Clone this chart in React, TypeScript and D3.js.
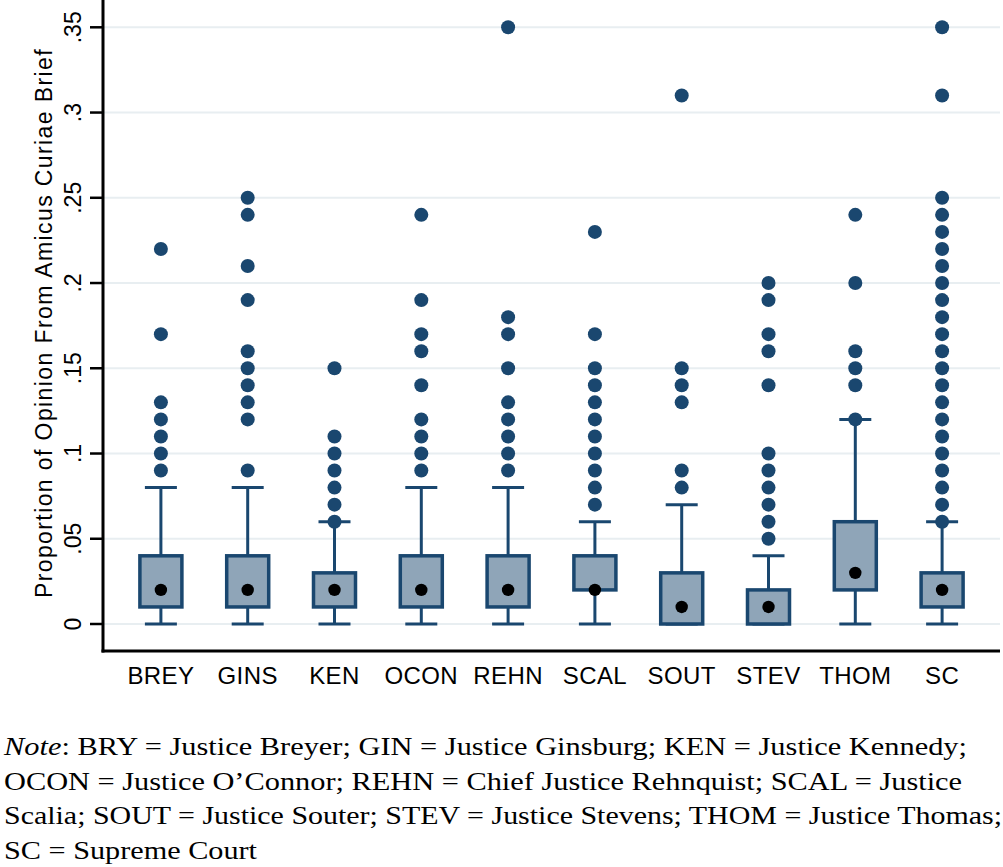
import * as d3 from 'd3';

const justices = ['BREY', 'GINS', 'KEN', 'OCON', 'REHN', 'SCAL', 'SOUT', 'STEV', 'THOM', 'SC'];
const lowerWhisker = [0, 0, 0, 0, 0, 0, 0, 0, 0, 0];
const lowerQuartile = [0.01, 0.01, 0.01, 0.01, 0.01, 0.02, 0, 0, 0.02, 0.01];
const medians = [0.02, 0.02, 0.02, 0.02, 0.02, 0.02, 0.01, 0.01, 0.03, 0.02];
const upperQuartile = [0.04, 0.04, 0.03, 0.04, 0.04, 0.04, 0.03, 0.02, 0.06, 0.03];
const upperWhisker = [0.08, 0.08, 0.06, 0.08, 0.08, 0.06, 0.07, 0.04, 0.12, 0.06];
const outliers = [
  [0.09, 0.1, 0.11, 0.12, 0.13, 0.17, 0.22],
  [0.09, 0.12, 0.13, 0.14, 0.15, 0.16, 0.19, 0.21, 0.24, 0.25],
  [0.06, 0.07, 0.08, 0.09, 0.1, 0.11, 0.15],
  [0.09, 0.1, 0.11, 0.12, 0.14, 0.16, 0.17, 0.19, 0.24],
  [0.09, 0.1, 0.11, 0.12, 0.13, 0.15, 0.17, 0.18, 0.35],
  [0.07, 0.08, 0.09, 0.1, 0.11, 0.12, 0.13, 0.14, 0.15, 0.17, 0.23],
  [0.08, 0.09, 0.13, 0.14, 0.15, 0.31],
  [0.05, 0.06, 0.07, 0.08, 0.09, 0.1, 0.14, 0.16, 0.17, 0.19, 0.2],
  [0.12, 0.14, 0.15, 0.16, 0.2, 0.24],
  [
    0.06, 0.07, 0.08, 0.09, 0.1, 0.11, 0.12, 0.13, 0.14, 0.15, 0.16, 0.17, 0.18, 0.19, 0.2,
    0.21, 0.22, 0.23, 0.24, 0.25, 0.31, 0.35,
  ],
];
const yTicks = [0, 0.05, 0.1, 0.15, 0.2, 0.25, 0.3, 0.35];
const yTickLabels = ['0', '.05', '.1', '.15', '.2', '.25', '.3', '.35'];
const noteLines = [
  ': BRY = Justice Breyer; GIN = Justice Ginsburg; KEN = Justice Kennedy;',
  'OCON = Justice O\u2019Connor; REHN = Chief Justice Rehnquist; SCAL = Justice',
  'Scalia; SOUT = Justice Souter; STEV = Justice Stevens; THOM = Justice Thomas;',
  'SC = Supreme Court',
];
const noteWidths = [963, 958, 998, 253];

const WIDTH = 1003;
const HEIGHT = 867;
const NAVY = '#1a476f';
const BOX_FILL = '#8fa5b8';
const GRID = '#e8eef1';
const SANS = '"Liberation Sans", Arial, Helvetica, sans-serif';
const SERIF = '"Liberation Serif", "DejaVu Serif", serif';

export default function App() {
  const left = 103;
  const right = 1000;
  const axisY = 651;

  const x = d3.scalePoint<string>().domain(justices).range([left, right]).padding(0.667);
  const y = d3.scaleLinear().domain([0, 0.35]).range([624, 27.3]);

  const boxWidth = 42;
  const capWidth = 32;

  return (
    <svg
      width={WIDTH}
      height={HEIGHT}
      viewBox={`0 0 ${WIDTH} ${HEIGHT}`}
      style={{ position: 'absolute', left: 0, top: 0, background: '#fff' }}
    >
      <rect width={WIDTH} height={HEIGHT} fill="#fff" />

      {/* gridlines */}
      <g>
        {yTicks.map((t) => (
          <line key={t} x1={left} x2={right} y1={y(t)} y2={y(t)} stroke={GRID} strokeWidth={2} />
        ))}
      </g>

      {/* y axis */}
      <g>
        <line x1={left} x2={left} y1={0} y2={axisY + 1.5} stroke="#000" strokeWidth={3} />
        {yTicks.map((t, i) => (
          <g key={t}>
            <line x1={left - 13} x2={left} y1={y(t)} y2={y(t)} stroke="#000" strokeWidth={2.5} />
            <text
              transform={`translate(81,${y(t)}) rotate(-90)`}
              textAnchor="middle"
              fontFamily={SANS}
              fontSize={23}
              fill="#000"
            >
              {yTickLabels[i]}
            </text>
          </g>
        ))}
        <text
          transform={`translate(52,323) rotate(-90)`}
          textAnchor="middle"
          fontFamily={SANS}
          fontSize={23}
          letterSpacing={1.4}
          fill="#000"
        >
          Proportion of Opinion From Amicus Curiae Brief
        </text>
      </g>

      {/* x axis */}
      <g>
        <line x1={left - 1.5} x2={right} y1={axisY} y2={axisY} stroke="#000" strokeWidth={3} />
        {justices.map((j) => (
          <text
            key={j}
            x={x(j)}
            y={684}
            textAnchor="middle"
            fontFamily={SANS}
            fontSize={24}
            letterSpacing={0.4}
            fill="#000"
          >
            {j}
          </text>
        ))}
      </g>

      {/* boxes */}
      <g>
        {justices.map((j, i) => {
          const cx = x(j)!;
          return (
            <g key={j}>
              <line x1={cx} x2={cx} y1={y(lowerWhisker[i])} y2={y(lowerQuartile[i])} stroke={NAVY} strokeWidth={3} />
              <line x1={cx} x2={cx} y1={y(upperQuartile[i])} y2={y(upperWhisker[i])} stroke={NAVY} strokeWidth={3} />
              <line
                x1={cx - capWidth / 2}
                x2={cx + capWidth / 2}
                y1={y(lowerWhisker[i])}
                y2={y(lowerWhisker[i])}
                stroke={NAVY}
                strokeWidth={3}
              />
              <line
                x1={cx - capWidth / 2}
                x2={cx + capWidth / 2}
                y1={y(upperWhisker[i])}
                y2={y(upperWhisker[i])}
                stroke={NAVY}
                strokeWidth={3}
              />
              <rect
                x={cx - boxWidth / 2}
                y={y(upperQuartile[i])}
                width={boxWidth}
                height={y(lowerQuartile[i]) - y(upperQuartile[i])}
                fill={BOX_FILL}
                stroke={NAVY}
                strokeWidth={3.5}
              />
              <circle cx={cx} cy={y(medians[i])} r={6.2} fill="#000" />
              {outliers[i].map((v, k) => (
                <circle key={k} cx={cx} cy={y(v)} r={7} fill={NAVY} />
              ))}
            </g>
          );
        })}
      </g>

      {/* note */}
      <g fontFamily={SERIF} fontSize={25.5} fill="#000">
        {noteLines.map((line, i) => (
          <text
            key={i}
            x={4}
            y={755 + i * 34.7}
            textLength={noteWidths[i]}
            lengthAdjust="spacingAndGlyphs"
          >
            {i === 0 ? <tspan fontStyle="italic">Note</tspan> : null}
            {line}
          </text>
        ))}
      </g>
    </svg>
  );
}
